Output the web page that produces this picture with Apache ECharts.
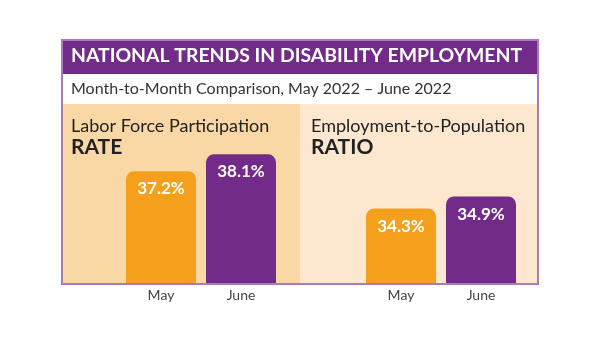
<!DOCTYPE html>
<html>
<head>
<meta charset="utf-8">
<script src="https://cdn.jsdelivr.net/npm/echarts@6/dist/echarts.min.js"></script>
<style>
  html, body { margin: 0; padding: 0; background: #fff; }
  #chart { width: 600px; height: 351px; }
</style>
</head>
<body>
<div id="chart"></div>
<script>
// data
const months = ['May', 'June'];
const laborForceRate = [37.2, 38.1];
const empPopRatio = [34.3, 34.9];
const monthColors = ['#F5A01C', '#722B88'];

const chart = echarts.init(document.getElementById('chart'));

const font = 'Lato, "Open Sans", sans-serif';
const purple = '#722B88';

const barData = (vals) => vals.map((v, i) => ({
    value: v,
    itemStyle: { color: monthColors[i] }
}));

const barSeries = (idx, vals) => ({
    type: 'bar',
    xAxisIndex: idx,
    yAxisIndex: idx,
    data: barData(vals),
    barWidth: 70,
    itemStyle: { borderRadius: [8, 8, 0, 0] },
    label: {
        show: true,
        position: 'insideTop',
        distance: 9,
        formatter: '{c}%',
        color: '#fff',
        fontFamily: font,
        fontWeight: 'bold',
        fontSize: 17
    },
    silent: true
});

const xAxisCfg = (idx) => ({
    type: 'category',
    gridIndex: idx,
    data: months,
    axisLine: { show: false },
    axisTick: { show: false },
    axisLabel: { color: '#444', fontFamily: font, fontSize: 14, margin: 5 }
});

const headRich = {
    a: { color: '#222', fontFamily: font, fontSize: 18, fontWeight: 'normal', lineHeight: 20 },
    b: { color: '#222', fontFamily: font, fontSize: 21, fontWeight: 'bold', lineHeight: 22 }
};

const option = {
    animation: false,
    graphic: [
        // panels
        { type: 'rect', z: -1, shape: { x: 62, y: 104, width: 238, height: 180 }, style: { fill: '#FAD8A6' } },
        { type: 'rect', z: -1, shape: { x: 300, y: 104, width: 238, height: 180 }, style: { fill: '#FDE8CF' } },
        // title band
        { type: 'rect', z: -1, shape: { x: 61, y: 39, width: 478, height: 35 }, style: { fill: purple } },
        // frame
        { type: 'rect', z: 10, shape: { x: 62, y: 40, width: 476, height: 244 }, style: { fill: 'none', stroke: '#A97BBE', lineWidth: 2 } }
    ],
    title: [
        {
            text: 'NATIONAL TRENDS IN DISABILITY EMPLOYMENT',
            left: 71, top: 46, padding: 0,
            textStyle: { color: '#fff', fontFamily: font, fontWeight: 'bold', fontSize: 19.4 }
        },
        {
            text: 'Month-to-Month Comparison, May 2022 – June 2022',
            left: 71, top: 81, padding: 0,
            textStyle: { color: '#333', fontFamily: font, fontWeight: 'normal', fontSize: 16 }
        },
        {
            text: '{a|Labor Force Participation}\n{b|RATE}',
            left: 71, top: 116, padding: 0,
            textStyle: { rich: headRich }
        },
        {
            text: '{a|Employment-to-Population}\n{b|RATIO}',
            left: 311, top: 116, padding: 0,
            textStyle: { rich: headRich }
        }
    ],
    grid: [
        { left: 121, width: 160, top: 104, height: 179 },
        { left: 361, width: 160, top: 104, height: 179 }
    ],
    xAxis: [xAxisCfg(0), xAxisCfg(1)],
    yAxis: [
        { type: 'value', gridIndex: 0, min: 31.2, max: 40.8, show: false },
        { type: 'value', gridIndex: 1, min: 30.6, max: 39.5, show: false }
    ],
    series: [
        barSeries(0, laborForceRate),
        barSeries(1, empPopRatio)
    ]
};

chart.setOption(option);
</script>
</body>
</html>
